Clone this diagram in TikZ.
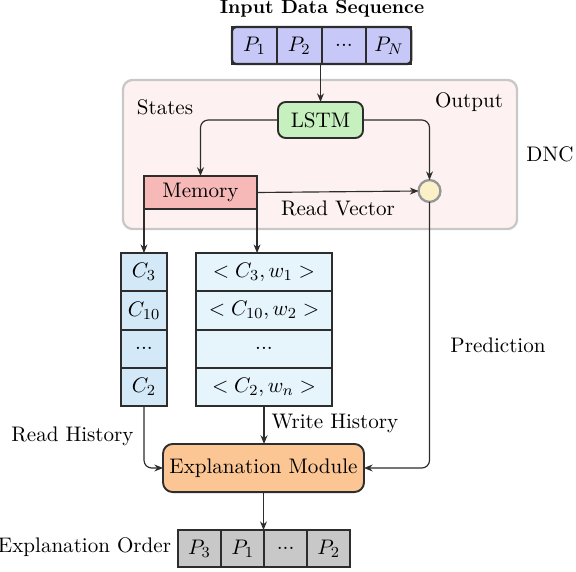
\documentclass[tikz,border=0pt,11pt]{standalone}
\usetikzlibrary{arrows.meta, positioning}

\definecolor{boxline}{RGB}{45,45,45}
\definecolor{seqfill}{RGB}{200,200,248}
\definecolor{dncfill}{RGB}{253,242,241}
\definecolor{dncline}{RGB}{200,200,200}
\definecolor{lstmfill}{RGB}{198,240,190}
\definecolor{memfill}{RGB}{247,184,184}
\definecolor{dotfill}{RGB}{251,240,200}
\definecolor{dotline}{RGB}{150,150,150}
\definecolor{readfill}{RGB}{211,233,247}
\definecolor{writefill}{RGB}{230,244,252}
\definecolor{explfill}{RGB}{251,198,148}
\definecolor{orderfill}{RGB}{200,200,200}

\begin{document}
\begin{tikzpicture}[x=0.52pt, y=-0.52pt,
  every node/.style={outer sep=0pt},
  cell/.style={draw=boxline, line width=1pt, inner sep=0pt},
  seqcell/.style={cell, fill=seqfill, minimum width=23.3pt, minimum height=19.2pt},
  ordercell/.style={cell, fill=orderfill, minimum width=22.4pt, minimum height=19.2pt},
  readcell/.style={cell, fill=readfill, minimum width=24.2pt, minimum height=19.9pt},
  writecell/.style={cell, fill=writefill, minimum width=70.7pt, minimum height=19.9pt},
  link/.style={-{Stealth[length=4.5pt,width=3.6pt]}, line width=0.6pt, draw=boxline, rounded corners=4pt}
]
\useasboundingbox (0,0) rectangle (576,571);

% DNC block
\node (dnc) [draw=dncline, fill=dncfill, line width=1.2pt, rounded corners=5pt,
  minimum width=204.9pt, minimum height=77.5pt] at (320,154.5) {};
\node (dnclabel) at (550,154) {DNC};
\node (states) at (165,107) {States};
\node (output) at (469,102) {Output};

% input sequence
\node (title) at (322,9) {\small\textbf{Input Data Sequence}};
\node (in1) [seqcell] at (254.4,45.5) {$P_1$};
\node (in2) [seqcell, right=0pt of in1] {$P_2$};
\node (in3) [seqcell, right=0pt of in2] {...};
\node (in4) [seqcell, right=0pt of in3] {$P_N$};
\draw[boxline, line width=1.2pt, rounded corners=2pt] (in1.north west) rectangle (in4.south east);

\node (lstm) [cell, fill=lstmfill, rounded corners=4pt, minimum width=44.2pt, minimum height=18.7pt] at (320.5,120) {LSTM};
\node (mem) [cell, fill=memfill, minimum width=58.8pt, minimum height=17.2pt] at (200.5,192.5) {Memory};
\node (dot) [circle, draw=dotline, fill=dotfill, line width=1.2pt, minimum size=11.4pt, inner sep=0pt] at (429.5,191) {};
\node (readvec) at (338,208) {Read Vector};

% read and write history
\node (rd1) [readcell] at (144,272.2) {$C_3$};
\node (rd2) [readcell, below=0pt of rd1] {$C_{10}$};
\node (rd3) [readcell, below=0pt of rd2] {...};
\node (rd4) [readcell, below=0pt of rd3] {$C_2$};
\node (wr1) [writecell] at (264,272.2) {$<C_3,w_1>$};
\node (wr2) [writecell, below=0pt of wr1] {$<C_{10},w_2>$};
\node (wr3) [writecell, below=0pt of wr2] {...};
\node (wr4) [writecell, below=0pt of wr3] {$<C_2,w_n>$};
\node (readhist) at (72.5,436) {Read History};
\node (writehist) at (335,423) {Write History};
\node (prediction) at (498,345) {Prediction};

\node (expl) [cell, fill=explfill, rounded corners=5pt, minimum width=104.5pt, minimum height=25pt] at (263.5,468) {Explanation Module};

% explanation order
\node (out1) [ordercell] at (199.5,548.5) {$P_3$};
\node (out2) [ordercell, right=0pt of out1] {$P_1$};
\node (out3) [ordercell, right=0pt of out2] {...};
\node (out4) [ordercell, right=0pt of out3] {$P_2$};
\node (order) at (84.5,547) {Explanation Order};

% connectors
\draw[link] (lstm.north |- in2.south) -- (lstm.north);
\draw[link] (lstm.west) -| (mem.north);
\draw[link] (lstm.east) -| (dot.north);
\draw[link] (mem.east) -- (dot.west);
\draw[link] (mem.south west) -- (mem.south west |- rd1.north);
\draw[link] (mem.south east) -- (mem.south east |- wr1.north);
\draw[link] (rd4.south) |- (expl.west);
\draw[link] (wr4.south) -- (wr4.south |- expl.north);
\draw[link] (dot.south) |- (expl.east);
\draw[link] (expl.south) -- (expl.south |- out1.north);
\end{tikzpicture}
\end{document}
